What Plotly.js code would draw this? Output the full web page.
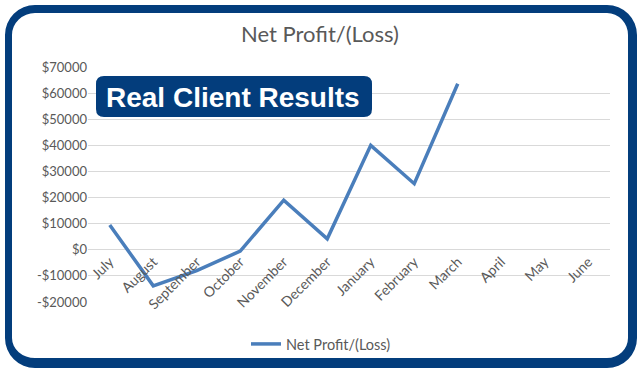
<!DOCTYPE html>
<html>
<head>
<meta charset="utf-8">
<script src="https://cdn.plot.ly/plotly-3.0.1.min.js"></script>
<style>
  html, body { margin: 0; padding: 0; background: #ffffff; }
  #frame {
    position: absolute; left: 5px; top: 5px; width: 632px; height: 363px;
    box-sizing: border-box; border-style: solid; border-color: #033D7C;
    border-width: 8px 9px 10px 7px; border-radius: 30px; background: #ffffff;
  }
  #chart { position: absolute; left: 0; top: 0; width: 640px; height: 380px; }
</style>
</head>
<body>
<div id="frame"></div>
<div id="chart"></div>
<script>
// ---- data ----
const months = ['July','August','September','October','November','December',
                'January','February','March','April','May','June'];
const profit = [9500, -13800, -8000, -500, 19000, 4200, 40000, 25300, 63600, null, null, null];
const yTickVals = [-20000, -10000, 0, 10000, 20000, 30000, 40000, 50000, 60000, 70000];
const yTickText = ['-$20000', '-$10000', '$0', '$10000', '$20000', '$30000',
                   '$40000', '$50000', '$60000', '$70000'];
const seriesName = 'Net Profit/(Loss)';
const chartTitle = 'Net Profit/(Loss)';
const badgeText = 'Real Client Results';

// ---- layout helpers (pixel -> paper) ----
const W = 640, H = 380, ML = 88, MR = 30, MT = 67, MB = 78;
const PW = W - ML - MR, PH = H - MT - MB;
const px = x => (x - ML) / PW;
const py = y => (H - MB - y) / PH;
function roundRect(x0, y0, x1, y1, r) {
  const p = (x, y) => px(x) + ',' + py(y);
  return 'M' + p(x0 + r, y0) + ' L' + p(x1 - r, y0) + ' Q' + p(x1, y0) + ' ' + p(x1, y0 + r) +
         ' L' + p(x1, y1 - r) + ' Q' + p(x1, y1) + ' ' + p(x1 - r, y1) +
         ' L' + p(x0 + r, y1) + ' Q' + p(x0, y1) + ' ' + p(x0, y1 - r) +
         ' L' + p(x0, y0 + r) + ' Q' + p(x0, y0) + ' ' + p(x0 + r, y0) + ' Z';
}

const FONT = 'Lato, "Open Sans", sans-serif';
const GRAY = '#595959';

const trace = {
  x: months, y: profit, type: 'scatter', mode: 'lines', name: seriesName,
  line: { color: '#4A7EBB', width: 3.5 }, connectgaps: false, showlegend: true
};

const layout = {
  width: W, height: H,
  margin: { l: ML, r: MR, t: MT, b: MB, pad: 0 },
  paper_bgcolor: 'rgba(0,0,0,0)', plot_bgcolor: 'rgba(0,0,0,0)',
  font: { family: FONT, color: GRAY, size: 13 },
  title: { text: chartTitle, x: 0.5, xanchor: 'center', y: 1 - 34 / H, yref: 'container',
           yanchor: 'middle', font: { family: FONT, size: 22, color: GRAY } },
  xaxis: {
    type: 'category', range: [-0.5, 11.5], anchor: 'free', position: py(250),
    showgrid: false, showline: false, zeroline: false, ticks: '', tickangle: -45,
    tickfont: { family: FONT, size: 14, color: GRAY }, fixedrange: true
  },
  yaxis: {
    range: [-20000, 70000], tickvals: yTickVals, ticktext: yTickText,
    showgrid: true, gridcolor: '#D9D9D9', gridwidth: 1, zeroline: false,
    showline: false, ticks: '', tickfont: { family: FONT, size: 13, color: GRAY },
    fixedrange: true
  },
  showlegend: true,
  legend: { orientation: 'h', x: px(246), xanchor: 'left', y: -(344 - (H - MB)) / PH,
            yanchor: 'middle', font: { family: FONT, size: 14.5, color: GRAY },
            bgcolor: 'rgba(0,0,0,0)' },
  shapes: [{
    type: 'path', xref: 'paper', yref: 'paper', path: roundRect(96, 76, 372, 117, 8),
    fillcolor: '#033D7C', line: { width: 0 }, layer: 'above'
  }],
  annotations: [{
    text: '<b>' + badgeText + '</b>', xref: 'paper', yref: 'paper',
    x: px(233), y: py(97), xanchor: 'center', yanchor: 'middle', showarrow: false,
    font: { family: '"Liberation Sans", Arial, sans-serif', size: 28, color: '#ffffff' }
  }]
};

Plotly.newPlot('chart', [trace], layout, { displayModeBar: false, staticPlot: true });
</script>
</body>
</html>
